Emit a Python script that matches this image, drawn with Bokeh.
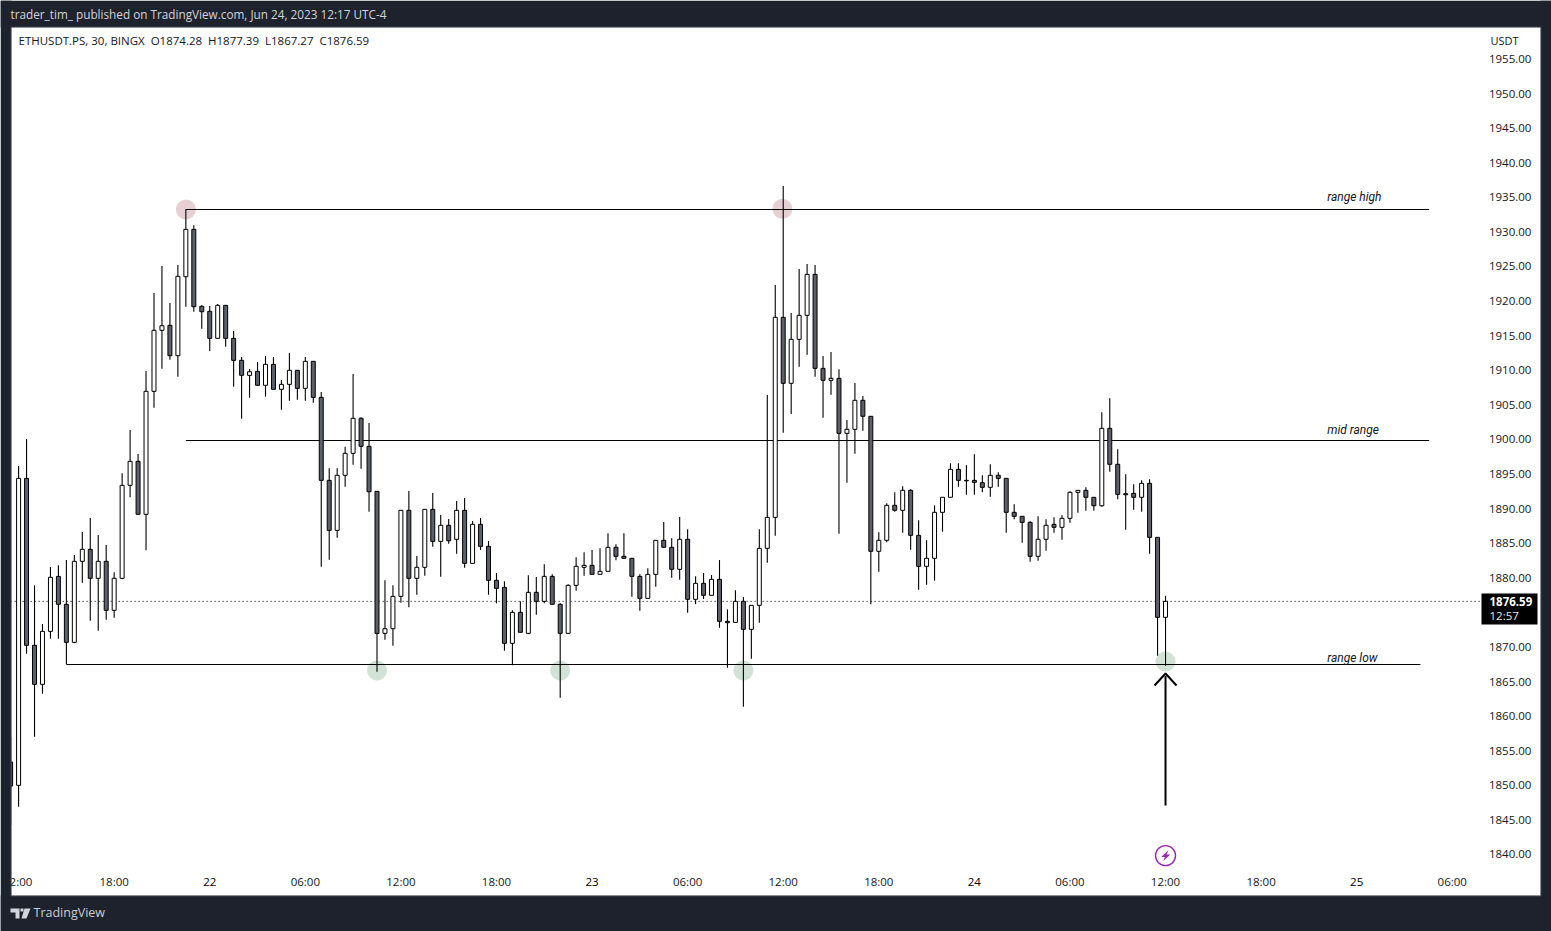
from bokeh.embed import file_html
from bokeh.resources import INLINE
from bokeh.plotting import figure
from bokeh.core.properties import value
from bokeh.models import (ColumnDataSource, FixedTicker, LinearAxis, Label, BoxAnnotation,
                          PolyAnnotation, NumeralTickFormatter, Range1d)

candle_index = list(range(-1, 145))
opens = [1853.36,
 1849.99,1894.37,1870.23,1864.59,1872.25,1880.20,1876.16,1870.66,1882.37,1884.11,
 1879.92,1882.37,1875.29,1879.92,1893.36,1896.83,1889.17,1906.95,1915.77,1916.49,
 1912.10,1923.52,1930.37,1919.24,1918.52,1914.61,1919.38,1914.61,1911.43,1909.26,
 1909.84,1907.82,1910.85,1907.24,1907.96,1909.99,1907.38,1911.29,1906.08,1894.08,
 1886.85,1894.81,1897.99,1903.05,1899.00,1892.49,1871.96,1872.63,1877.31,1889.75,
 1879.92,1881.51,1889.89,1885.26,1887.58,1885.56,1889.75,1882.08,1887.72,1884.54,
 1879.63,1878.61,1870.52,1875.00,1871.96,1877.89,1876.59,1880.20,1876.16,1871.96,
 1878.90,1881.51,1881.79,1880.49,1880.93,1884.40,1883.10,1882.81,1880.20,1877.02,
 1880.49,1885.41,1884.40,1881.22,1885.56,1876.88,1879.19,1877.46,1879.77,1873.70,
 1873.55,1876.59,1872.54,1876.01,1884.25,1888.73,1917.65,1908.11,1914.47,1917.94,
 1923.86,1910.27,1908.54,1908.83,1900.88,1901.46,1905.65,1903.34,1883.82,1885.41,
 1890.47,1889.75,1892.64,1886.13,1881.65,1882.81,1889.46,1891.63,1895.67,1894.08,
 1894.08,1893.74,1893.07,1894.81,1894.37,1889.46,1888.88,1888.01,1883.10,1885.56,
 1887.72,1887.29,1888.59,1892.35,1892.64,1891.63,1890.41,1901.60,1896.40,1892.15,
 1892.20,1891.63,1893.65,1885.84,1874.28]
closes = [1849.89,
 1894.37,1870.23,1864.59,1872.25,1880.06,1876.16,1870.66,1882.37,1884.11,1879.92,
 1882.37,1875.29,1879.92,1893.36,1896.83,1889.17,1906.95,1915.77,1916.43,1912.10,
 1923.58,1930.37,1919.18,1918.46,1914.61,1919.38,1914.61,1911.43,1909.26,1909.78,
 1907.82,1910.85,1907.24,1907.96,1909.99,1907.38,1911.29,1906.08,1894.08,1886.85,
 1894.81,1897.99,1903.05,1899.00,1892.43,1871.96,1872.63,1877.31,1889.75,1879.92,
 1881.51,1889.89,1885.26,1887.58,1885.35,1889.75,1882.08,1887.72,1884.54,1879.63,
 1878.47,1870.52,1875.00,1872.11,1877.89,1876.59,1880.20,1876.16,1871.96,1878.90,
 1881.65,1881.79,1880.49,1880.93,1884.40,1883.10,1882.81,1880.20,1877.02,1880.49,
 1885.41,1884.40,1881.22,1885.56,1876.88,1879.19,1877.46,1879.77,1873.70,1873.50,
 1876.59,1872.54,1876.01,1884.25,1888.73,1917.65,1908.11,1914.47,1917.94,1923.86,
 1910.27,1908.54,1908.83,1900.88,1901.46,1905.65,1903.34,1883.82,1885.41,1890.47,
 1889.75,1892.64,1886.13,1881.65,1882.81,1889.46,1891.63,1895.67,1894.08,1894.01,
 1893.79,1893.07,1894.81,1894.37,1889.46,1888.88,1888.01,1883.10,1885.56,1887.58,
 1887.29,1888.59,1892.35,1892.64,1891.63,1890.41,1901.60,1896.40,1892.06,1892.00,
 1891.63,1893.65,1885.84,1874.28,1876.59]
highs = [1856.97,
 1896.15,1900.05,1878.90,1873.31,1881.55,1881.79,1882.56,1883.28,1886.61,1888.63,
 1886.18,1884.73,1880.78,1895.10,1901.35,1897.89,1909.88,1921.16,1925.06,1919.72,
 1925.21,1933.26,1930.95,1919.38,1919.28,1919.57,1919.38,1915.67,1911.91,1910.17,
 1911.19,1912.05,1911.91,1908.58,1912.49,1909.99,1911.91,1911.29,1906.85,1895.82,
 1895.82,1898.94,1909.45,1903.19,1902.37,1892.49,1879.63,1878.90,1889.75,1892.54,
 1883.14,1889.89,1892.25,1889.07,1888.49,1891.09,1891.52,1888.20,1888.63,1885.31,
 1880.68,1879.48,1875.29,1876.59,1880.35,1880.10,1881.94,1880.49,1876.30,1879.05,
 1882.95,1883.67,1884.01,1884.25,1886.42,1884.83,1886.42,1882.81,1880.49,1881.36,
 1885.41,1888.05,1885.70,1888.78,1887.00,1880.20,1880.68,1880.39,1882.56,1875.43,
 1878.18,1877.21,1876.01,1887.00,1906.41,1922.32,1936.63,1918.27,1924.63,1925.35,
 1925.21,1912.05,1912.63,1910.13,1902.80,1908.15,1906.27,1903.34,1886.57,1890.76,
 1892.35,1893.22,1892.78,1888.30,1885.41,1890.47,1891.63,1896.54,1896.54,1896.25,
 1897.84,1894.81,1896.40,1895.24,1894.37,1890.61,1888.88,1888.16,1888.88,1888.45,
 1888.73,1889.02,1892.49,1892.64,1893.07,1891.63,1903.91,1905.94,1898.56,1894.95,
 1893.50,1894.08,1894.23,1885.84,1877.39]
lows = [1844.25,
 1846.89,1869.01,1857.02,1863.23,1871.18,1871.18,1867.48,1870.52,1879.28,1873.79,
 1872.34,1873.93,1874.22,1879.77,1891.63,1889.17,1883.96,1904.58,1910.22,1911.52,
 1909.06,1919.18,1918.46,1916.00,1912.78,1914.61,1913.40,1907.61,1902.99,1906.02,
 1907.82,1906.17,1907.24,1904.29,1905.59,1905.74,1905.59,1905.30,1881.59,1882.60,
 1885.78,1893.16,1896.34,1895.76,1889.54,1866.41,1871.04,1870.17,1876.39,1875.72,
 1877.54,1880.29,1884.48,1880.15,1884.92,1883.47,1881.45,1882.08,1884.01,1877.54,
 1876.30,1869.45,1867.34,1872.11,1871.82,1874.65,1876.30,1876.16,1862.66,1871.96,
 1878.12,1880.29,1880.49,1880.49,1880.93,1882.52,1882.81,1877.25,1875.23,1877.02,
 1878.70,1884.40,1880.00,1879.71,1874.94,1876.16,1876.92,1877.46,1872.77,1866.99,
 1873.55,1861.35,1868.29,1873.50,1882.17,1886.07,1900.96,1903.67,1910.51,1912.24,
 1909.06,1903.13,1906.46,1886.36,1893.74,1897.93,1901.25,1876.16,1880.87,1885.12,
 1889.54,1886.51,1884.05,1878.27,1878.99,1879.57,1886.65,1891.63,1893.16,1892.00,
 1892.00,1892.35,1891.71,1893.16,1886.51,1888.45,1885.06,1882.32,1882.46,1883.91,
 1886.51,1885.50,1887.95,1889.40,1889.69,1889.69,1890.27,1895.33,1891.34,1886.94,
 1889.83,1889.54,1883.47,1868.72,1867.27]

price_ticks = [1840,1845,1850,1855,1860,1865,1870,1875,1880,1885,1890,1895,1900,
               1905,1910,1915,1920,1925,1930,1935,1940,1945,1950,1955]
time_ticks = [0.3,12,36,48,60,84,96,108,132,144,156,180]
time_labels = ["2:00","18:00","06:00","12:00","18:00","06:00","12:00","18:00","06:00","12:00","18:00","06:00"]
day_ticks = [24,72,120,168]
day_labels = ["22","23","24","25"]

range_names = ["range high","mid range","range low"]
range_levels = [1933.24,1899.84,1867.46]
range_starts = [21,21,6]
range_ends = [177.1,177.1,176]
range_label_x = [164.3,164.3,164.3]
range_label_y = [1935.07,1901.38,1868.42]

top_touch_x = [21,95.9]
top_touch_y = [1933.23,1933.33]
bottom_touch_x = [45,68,91,144]
bottom_touch_y = [1866.59,1866.59,1866.59,1867.89]

arrow_shaft_x = [144,144]
arrow_shaft_y = [1847.07,1865.83]
arrow_head_x = [142.62,144,145.38]
arrow_head_y = [1864.42,1866.15,1864.42]

last_price = 1876.59
DARK = "#1e222d"
FONT = "Open Sans"
TXT = "#131722"

p = figure(width=1551, height=931, output_backend="svg", toolbar_location=None,
           x_range=Range1d(-2.271, 192.46), y_range=Range1d(1828.858, 1963.453),
           min_border_left=0, min_border_right=0, min_border_top=0, min_border_bottom=0,
           x_axis_location=None, y_axis_location=None,
           background_fill_color="white", border_fill_color=DARK,
           outline_line_color=None, tools="")
p.grid.visible = False

# touch markers
p.scatter(top_touch_x, top_touch_y, size=20, marker="circle", fill_color="#e6d0d3", line_color=None)
p.scatter(bottom_touch_x, bottom_touch_y, size=20, marker="circle", fill_color="#d3e2d6", line_color=None)

# last price line
p.line([candle_index[0], 183.6], [last_price, last_price], line_color="black", line_width=1, line_dash=[1, 3])

# range lines
p.segment(range_starts, range_levels, range_ends, range_levels, line_color="black", line_width=1.1)

src = ColumnDataSource(dict(
    x=candle_index, open=opens, close=closes, high=highs, low=lows,
    top=[max(a, b) for a, b in zip(opens, closes)],
    bottom=[min(a, b) for a, b in zip(opens, closes)],
    fill=["#5d606b" if c < o else "#ffffff" for o, c in zip(opens, closes)],
))
p.segment("x", "high", "x", "low", source=src, line_color="black", line_width=1.1)
p.vbar("x", 0.5, "top", "bottom", source=src, fill_color="fill", line_color="black", line_width=1)

# range texts
p.text(range_label_x, range_label_y, text=range_names, text_font=value("Roboto"), text_font_size="12px",
       text_font_style="italic", text_color=TXT, text_baseline="middle", text_align="left")

# arrow
p.line(arrow_shaft_x, arrow_shaft_y, line_color="black", line_width=2)
p.line(arrow_head_x, arrow_head_y, line_color="black", line_width=2)

# bolt marker
p.scatter([144], [1839.83], size=20, marker="circle", fill_color=None, line_color="#9c27b0", line_width=1.4)
p.add_layout(PolyAnnotation(xs=[1168, 1160.8, 1164.5, 1162.5, 1169.8, 1166],
                            ys=[849.5, 856.5, 856.5, 860.8, 854, 854],
                            xs_units="canvas", ys_units="canvas",
                            fill_color="#9c27b0", fill_alpha=1, line_color=None))

# price axis drawn inside the white panel
yax = LinearAxis(fixed_location=183.1, ticker=FixedTicker(ticks=price_ticks),
                 formatter=NumeralTickFormatter(format="0.00"))
yax.axis_line_color = None
yax.major_tick_line_color = None
yax.minor_tick_line_color = None
yax.major_label_standoff = 6
yax.major_label_text_font = FONT
yax.major_label_text_font_size = "11.5px"
yax.major_label_text_color = TXT
p.add_layout(yax, "right")

def time_axis(location, ticks, labels, color):
    ax = LinearAxis(fixed_location=location, ticker=FixedTicker(ticks=ticks),
                    major_label_overrides={t: l for t, l in zip(ticks, labels)})
    ax.axis_line_color = None
    ax.major_tick_line_color = None
    ax.minor_tick_line_color = None
    ax.major_label_standoff = 3
    ax.major_label_text_font = FONT
    ax.major_label_text_font_size = "11.5px"
    ax.major_label_text_color = color
    p.add_layout(ax, "below")

time_axis(1838.54, time_ticks, time_labels, TXT)
time_axis(1837.96, day_ticks, day_labels, "#000000")

def box(left, right, top, bottom, fill, line=None):
    p.add_layout(BoxAnnotation(left=left, right=right, top=top, bottom=bottom,
                               left_units="canvas", right_units="canvas", top_units="canvas", bottom_units="canvas",
                               fill_color=fill, fill_alpha=1 if fill else 0, line_color=line, line_width=1))

# dark surround of the white panel
box(0, 1551, 0, 27, DARK)
box(0, 1551, 895, 931, DARK)
box(0, 11, 0, 931, DARK)
box(1540, 1551, 0, 931, DARK)
box(10.5, 1540.5, 26.5, 895.5, None, "#8a8d96")

# panel over the top of price scale, last price tag
box(1482, 1539.5, 27.5, 53, "white")
box(1481, 1537, 593, 624, "black")

def label(x, y, text, color=TXT, size="11.5px", style="normal"):
    p.add_layout(Label(x=x, y=y, x_units="canvas", y_units="canvas", text=text,
                       text_font=FONT, text_font_size=size, text_font_style=style,
                       text_color=color, text_baseline="middle", text_align="left"))

label(10, 13, "trader_tim_ published on TradingView.com, Jun 24, 2023 12:17 UTC-4", "#d1d4dc", "11.75px")
label(33, 912, "TradingView", "#c9ccd4", "12.5px")
label(1489, 601, "1876.59", "white", "11.5px", "bold")
label(1489, 615, "12:57", "#e8e8e8")
label(1490, 40, "USDT", TXT, "11px")
label(18, 40, "ETHUSDT.PS, 30, BINGX\u00a0\u00a0O1874.28\u00a0\u00a0H1877.39\u00a0\u00a0L1867.27\u00a0\u00a0C1876.59")

# logo
logo_col = "#d1d4dc"
for xs, ys in [([10, 19, 19, 15, 15, 10], [908, 908, 918, 918, 912, 912]),
               ([24, 30, 26, 21], [908, 908, 918, 918]),
               ([20, 23, 23, 20], [908, 908, 911, 911])]:
    p.add_layout(PolyAnnotation(xs=xs, ys=ys, xs_units="canvas", ys_units="canvas",
                                fill_color=logo_col, fill_alpha=1, line_color=None))

open("out.html", "w").write(file_html(p, INLINE))
